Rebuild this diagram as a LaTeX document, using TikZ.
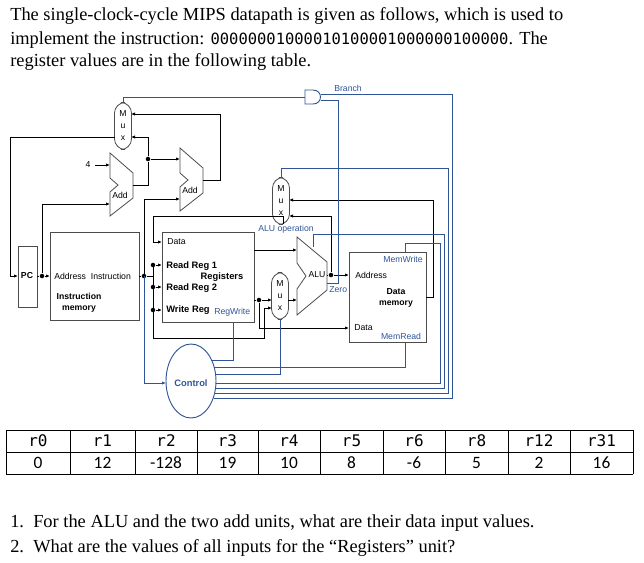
\documentclass[tikz,border=0pt]{standalone}
\usepackage{fontspec}
\setmainfont{Liberation Serif}
\newfontfamily\sfx{Liberation Sans}
\newfontfamily\monox{DejaVu Sans Mono}
\newfontfamily\calx{Carlito}
\usetikzlibrary{arrows.meta}
\definecolor{cblue}{RGB}{47,85,151}
\begin{document}
\begin{tikzpicture}[x=0.75pt,y=-0.75pt,
  w/.style={line width=0.7pt},
  bw/.style={line width=0.7pt,draw=cblue},
  ar/.style={-{Latex[length=3pt,width=2.5pt]}},
  dot/.style={circle,fill,inner sep=1.2pt},
  lab/.style={font=\sfx\fontsize{6.5}{7}\selectfont,inner sep=0pt},
  blab/.style={lab,text=cblue},
  bx/.style={draw=black!70,line width=0.6pt},
  muxs/.style={draw=black!70,line width=0.6pt,rounded corners=8pt,fill=white},
  hd/.style={font=\fontsize{13.8}{16}\selectfont,anchor=base west,inner sep=0pt}]
\useasboundingbox (0,0) rectangle (644,562);
% header
\node[hd] (h1) at (10,20) {The single-clock-cycle MIPS datapath is given as follows, which is used to};
\node[hd] (h2) at (10,44) {implement the instruction: {\monox\fontsize{11.6}{13}\selectfont 00000001000010100001000000100000}. The};
\node[hd] (h3) at (10,66) {register values are in the following table.};
% boxes
\draw[bx] (18,246) rectangle (37,307); \node[lab,font=\sfx\bfseries\fontsize{6.5}{7}\selectfont] (pc) at (27,276) {PC};
\draw[bx] (50,232) rectangle (139,320);
\node[lab,anchor=west] (imad) at (54,276) {Address\ \ Instruction};
\node[lab,font=\sfx\bfseries\fontsize{6.5}{7}\selectfont,align=center] (imt) at (79,303) {Instruction\\[1pt]memory};
\draw[bx] (162,232) rectangle (254,322);
\node[lab,anchor=west] (rd) at (167,242) {Data};
\node[lab,anchor=west,font=\sfx\bfseries\fontsize{7}{8}\selectfont] (rr1) at (166,266) {Read Reg 1};
\node[lab,font=\sfx\bfseries\fontsize{7}{8}\selectfont] (regs) at (222,277) {Registers};
\node[lab,anchor=west,font=\sfx\bfseries\fontsize{7}{8}\selectfont] (rr2) at (166,288) {Read Reg 2};
\node[lab,anchor=west,font=\sfx\bfseries\fontsize{7}{8}\selectfont] (wr) at (166,310) {Write Reg};
\node[blab,anchor=west] (rw) at (214,312) {RegWrite};
\draw[bx] (349,252) rectangle (426,342);
\node[blab] (mw) at (403,259) {MemWrite};
\node[lab,anchor=west] (mad) at (355,275) {Address};
\node[lab,font=\sfx\bfseries\fontsize{6.5}{7}\selectfont,align=center] (dm) at (396,298) {Data\\[1pt]memory};
\node[lab,anchor=west] (mdi) at (354,328) {Data};
\node[blab] (mr) at (401,336) {MemRead};
% muxes
\node[muxs,minimum width=17pt*0.75,minimum height=47pt*0.75,inner sep=0pt,lab,align=center] (mux1) at (123,126) {M\\[2pt]u\\[2pt]x};
\node[muxs,minimum width=17pt*0.75,minimum height=47pt*0.75,inner sep=0pt,lab,align=center] (mux2) at (281,201) {M\\[2pt]u\\[2pt]x};
\node[muxs,minimum width=17pt*0.75,minimum height=47pt*0.75,inner sep=0pt,lab,align=center] (mux3) at (280,296) {M\\[2pt]u\\[2pt]x};
% adders and ALU
\draw[bx,fill=white] (110,153) -- (133,173) -- (133,198) -- (110,216) -- (110,192) -- (118,185) -- (110,178) -- cycle;
\node[lab] (add1) at (120,195) {Add};
\draw[bx,fill=white] (180,148) -- (203,168) -- (203,193) -- (180,211) -- (180,187) -- (188,180) -- (180,173) -- cycle;
\node[lab] (add2) at (190,190) {Add};
\draw[bx,fill=white] (297,237) -- (327,262) -- (327,290) -- (297,315) -- (297,289) -- (306,276) -- (297,263) -- cycle;
\node[lab] (alu) at (317,275) {ALU};
\node[blab,anchor=west] (zero) at (329,290) {Zero};
\node[blab] (aluop) at (286,229) {ALU operation};
% AND gate
\draw[bw,fill=white] (305,90) -- (313,90) .. controls (323,90) and (323,104) .. (313,104) -- (305,104) -- cycle;
\node[blab] (br) at (348,88) {Branch};
% control
\draw[bw] (191,381) ellipse (25 and 37);
\node[lab,font=\sfx\bfseries\fontsize{7}{8}\selectfont,text=cblue] (ctl) at (191,383) {Control};
\node[lab] (four) at (88,165) {4};
% black wires
\draw[w,ar] (95,165) -- (110,165);
\node[dot] (d1) at (148,159) {};
\draw[w] (133,185) -- (148,185) -- (d1);
\draw[w,ar] (d1) -- (180,159);
\draw[w,ar] (d1) -- (148,137) -- (131,137);
\draw[w,ar] (203,180) -- (220,180) -- (220,114) -- (131,114);
\draw[w,ar] (115,137) -- (10,137) -- (10,276) -- (18,276);
\node[dot] (d2) at (42,276) {};
\draw[w] (37,276) -- (d2);
\draw[w,ar] (d2) -- (50,276);
\draw[w,ar] (d2) -- (42,204) -- (110,204);
\node[dot] (d3) at (144,276) {};
\draw[w] (139,276) -- (d3);
\draw[w,ar] (144,276) -- (144,199) -- (180,199);
\draw[w] (d3) -- (153,276);
\draw[w] (153,265) -- (153,338);
\foreach \yy/\nm in {265/a,287/b,310/c}{\node[dot] (r\nm) at (153,\yy) {}; \draw[w,ar] (r\nm) -- (162,\yy);}
\draw[w,ar] (283,224) -- (283,216) -- (153,216) -- (153,242) -- (162,242);
\draw[w,ar] (153,338) -- (264,338) -- (264,308) -- (272,308);
\draw[w,ar] (254,250) -- (297,250);
\node[dot] (d4) at (259,300) {};
\draw[w] (254,300) -- (d4);
\draw[w,ar] (d4) -- (272,300);
\draw[w,ar] (d4) -- (259,328) -- (349,328);
\draw[w,ar] (288,300) -- (297,300);
\node[dot] (d5) at (331,275) {};
\draw[w] (327,275) -- (d5);
\draw[w,ar] (d5) -- (349,275);
\draw[w,ar] (d5) -- (331,216) -- (289,216);
\draw[w,ar] (426,297) -- (433,297) -- (433,200) -- (289,200);
% blue wires
\draw[bw] (123,102) -- (123,97) -- (305,97);
\draw[bw] (327,283) -- (338,283) -- (338,100) -- (321,100);
\draw[bw] (321,94) -- (452,94) -- (452,398) -- (214,398);
\draw[bw] (281,177) -- (281,168) -- (448,168) -- (448,393) -- (215,393);
\draw[bw] (313,247) -- (313,234) -- (444,234) -- (444,388) -- (216,388);
\draw[bw] (405,252) -- (405,243) -- (440,243) -- (440,383) -- (216,383);
\draw[bw] (405,342) -- (405,367) -- (214,367);
\draw[bw] (280,320) -- (280,374) -- (216,374);
\draw[bw] (233,322) -- (233,360) -- (211,360);
\draw[bw,ar] (144,276) -- (144,383) -- (166,383);
% table
\foreach \x in {6,70,135,197,258,320,383,445,508,570,633}{\draw[line width=0.6pt] (\x,430) -- (\x,474);}
\foreach \y in {430,452,474}{\draw[line width=0.6pt] (6,\y) -- (633,\y);}
\foreach \xa/\xb/\r/\v [count=\i] in {6/70/r0/0,70/135/r1/12,135/197/r2/-128,197/258/r3/19,258/320/r4/10,320/383/r5/8,383/445/r6/-6,445/508/r8/5,508/570/r12/2,570/633/r31/16}{
  \node[font=\monox\fontsize{12}{13}\selectfont,inner sep=0pt] (t\i) at ({(\xa+\xb)/2},441) {\r};
  \node[font=\calx\fontsize{13}{14}\selectfont,inner sep=0pt] (v\i) at ({(\xa+\xb)/2},463) {\v};}
\node[hd] (q1) at (10,527) {1.\ \ For the ALU and the two add units, what are their data input values.};
\node[hd] (q2) at (10,552) {2.\ \ What are the values of all inputs for the ``Registers'' unit?};
\end{tikzpicture}
\end{document}
